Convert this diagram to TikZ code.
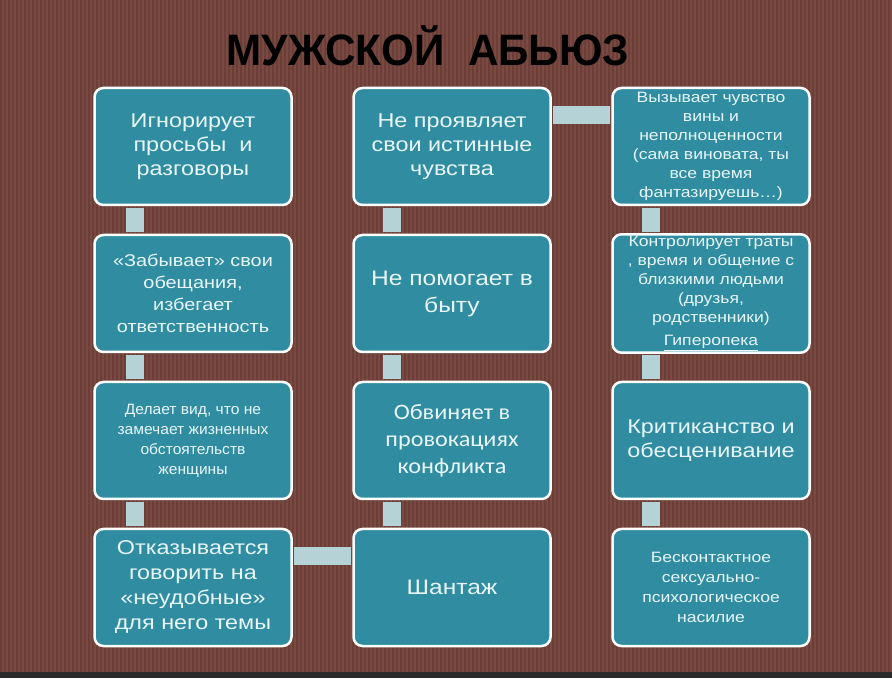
\documentclass[tikz,border=0pt]{standalone}
\usepackage{fontspec}
\setmainfont{Liberation Sans}[FakeStretch=1.17]
\newfontfamily\plainsans{Liberation Sans}
\newfontfamily\narrowsans{Liberation Sans}[FakeStretch=1.04]
\newfontfamily\humanist{Carlito}[FakeStretch=1.1]
\usepackage{xcolor}
\usepackage{tikz}

\definecolor{bgbrown}{HTML}{7A4A42}
\definecolor{bgstripe}{HTML}{6B3F38}
\definecolor{boxteal}{HTML}{2F8CA1}
\definecolor{linkgrey}{HTML}{B5D2D6}
\definecolor{boxtext}{HTML}{E9F7F9}
\definecolor{basebar}{HTML}{2A2A2A}

\begin{document}
\begin{tikzpicture}[x=1pt, y=1pt, node distance=147pt]
\tikzstyle{box}=[rectangle, rounded corners=9pt, draw=white, line width=2.5pt,
                 fill=boxteal, text=boxtext, align=center, inner sep=2pt,
                 minimum width=197pt, minimum height=117pt]
\tikzstyle{link}=[draw=linkgrey, line width=18pt, shorten >=1.3pt, shorten <=1.3pt]
  \useasboundingbox (0,0) rectangle (892,678);
  \fill[bgbrown] (0,0) rectangle (892,678);
  \foreach \x in {1,5,...,892}
    \draw[bgstripe, line width=1.3pt] (\x,6) -- (\x,678);
  \fill[basebar] (0,0) rectangle (892,6);
  %
  \node (T) at (428,632) [font=\plainsans\fontsize{44}{44}\selectfont\bfseries]
        {\scalebox{0.96}[1]{МУЖСКОЙ\ \ АБЬЮЗ}};
  %
  \node[box] (A1) at (193,531.5) [font=\fontsize{20}{24}\selectfont]
        {Игнорирует\\просьбы\ \ и\\разговоры};
  \node[box] (A2) [below of=A1, font=\fontsize{17}{22}\selectfont]
        {«Забывает» свои\\обещания,\\избегает\\ответственность};
  \node[box] (A3) [below of=A2, font=\narrowsans\fontsize{15}{20}\selectfont]
        {Делает вид, что не\\замечает жизненных\\обстоятельств\\женщины};
  \node[box] (A4) [below of=A3, font=\fontsize{20}{25}\selectfont]
        {Отказывается\\говорить на\\«неудобные»\\для него темы};
  %
  \node[box] (B1) [right of=A1, node distance=259pt, font=\fontsize{20}{24}\selectfont]
        {Не проявляет\\свои истинные\\чувства};
  \node[box] (B2) [below of=B1, font=\fontsize{21}{27}\selectfont]
        {Не помогает в\\быту};
  \node[box] (B3) [below of=B2, font=\humanist\fontsize{22}{27}\selectfont]
        {Обвиняет в\\провокациях\\конфликта};
  \node[box] (B4) [below of=B3, font=\fontsize{21}{26}\selectfont]
        {Шантаж};
  %
  \node[box] (C1) [right of=B1, node distance=259pt, font=\fontsize{15}{19}\selectfont]
        {Вызывает чувство\\вины и\\неполноценности\\(сама виновата, ты\\все время\\фантазируешь…)};
  \node[box] (C2) [below of=C1, font=\fontsize{15}{19}\selectfont]
        {Контролирует траты\\, время и общение с\\близкими людьми\\(друзья,\\родственники)\\[4pt]
        {\fontsize{15}{16}\selectfont\underline{Гиперопека}}};
  \node[box] (C3) [below of=C2, font=\fontsize{20}{24}\selectfont]
        {Критиканство и\\обесценивание};
  \node[box] (C4) [below of=C3, font=\fontsize{15}{20}\selectfont]
        {Бесконтактное\\сексуально-\\психологическое\\насилие};
  %
  \draw[link] ([xshift=42pt]A1.south west) -- ([xshift=42pt]A2.north west);
  \draw[link] ([xshift=42pt]A2.south west) -- ([xshift=42pt]A3.north west);
  \draw[link] ([xshift=42pt]A3.south west) -- ([xshift=42pt]A4.north west);
  \draw[link] ([yshift=-28.5pt]A4.north east) -- ([yshift=-28.5pt]B4.north west);
  \draw[link] ([xshift=40pt]B4.north west) -- ([xshift=40pt]B3.south west);
  \draw[link] ([xshift=40pt]B3.north west) -- ([xshift=40pt]B2.south west);
  \draw[link] ([xshift=40pt]B2.north west) -- ([xshift=40pt]B1.south west);
  \draw[link] ([yshift=-28.5pt]B1.north east) -- ([yshift=-28.5pt]C1.north west);
  \draw[link] ([xshift=40pt]C1.south west) -- ([xshift=40pt]C2.north west);
  \draw[link] ([xshift=40pt]C2.south west) -- ([xshift=40pt]C3.north west);
  \draw[link] ([xshift=40pt]C3.south west) -- ([xshift=40pt]C4.north west);
\end{tikzpicture}
\end{document}
